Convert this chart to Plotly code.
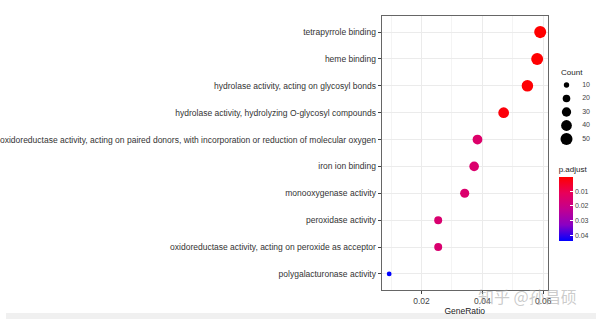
import plotly.graph_objects as go

# ---- data ----
terms = [
    "tetrapyrrole binding",
    "heme binding",
    "hydrolase activity, acting on glycosyl bonds",
    "hydrolase activity, hydrolyzing O-glycosyl compounds",
    "oxidoreductase activity, acting on paired donors, with incorporation or reduction of molecular oxygen",
    "iron ion binding",
    "monooxygenase activity",
    "peroxidase activity",
    "oxidoreductase activity, acting on peroxide as acceptor",
    "polygalacturonase activity",
]
gene_ratio = [0.0590, 0.0580, 0.0548, 0.0470, 0.0384, 0.0373, 0.0342, 0.0255, 0.0255, 0.0094]
counts = [50, 49, 46, 40, 33, 32, 29, 22, 22, 8]
p_adjust = [0.0003, 0.0004, 0.0008, 0.0015, 0.0145, 0.0150, 0.0150, 0.0155, 0.0155, 0.0438]

legend_counts = [10, 20, 30, 40, 50]
p_ticks = [0.01, 0.02, 0.03, 0.04]
x_ticks = [0.02, 0.04, 0.06]

W, H = 600, 319
FONT = "Liberation Sans, Arial, sans-serif"


def dia(c):
    return 1.7 * c ** 0.5


# ggplot-like red->blue (Lab) gradient; colour value is -p so red (small p) is at top
cscale = [
    [0.0, "#0000FF"],
    [0.25, "#8A00C4"],
    [0.5, "#C3008F"],
    [0.75, "#E8005A"],
    [1.0, "#FF0000"],
]

neg_p = [-p for p in p_adjust]

fig = go.Figure()
fig.add_trace(go.Scatter(
    x=gene_ratio, y=terms, mode="markers",
    marker=dict(
        size=[dia(c) for c in counts],
        color=neg_p, colorscale=cscale,
        cmin=-max(p_adjust), cmax=-min(p_adjust),
        line=dict(width=0), opacity=1,
        colorbar=dict(
            title=dict(text="p.adjust", side="top", font=dict(size=8, color="#222222", family=FONT)),
            lenmode="pixels", len=78, thickness=14,
            x=562 / W, xanchor="left", y=1 - 163 / H, yanchor="top",
            xpad=0, ypad=0, outlinewidth=0,
            tickvals=[-t for t in p_ticks], ticktext=[f"{t:.2f}" for t in p_ticks],
            ticks="inside", ticklen=3, tickcolor="white",
            tickfont=dict(size=7, color="#444444", family=FONT),
        ),
    ),
    showlegend=False, xaxis="x", yaxis="y",
))

# size legend (Count)
fig.add_trace(go.Scatter(
    x=[15] * len(legend_counts), y=legend_counts, mode="markers",
    marker=dict(size=[dia(c) for c in legend_counts], color="#000000", opacity=1,
                line=dict(width=0)),
    showlegend=False, xaxis="x2", yaxis="y2", hoverinfo="skip",
))
fig.add_trace(go.Scatter(
    x=[31] * len(legend_counts), y=legend_counts, mode="text",
    text=[str(c) for c in legend_counts], textposition="middle right",
    textfont=dict(size=7, color="#444444", family=FONT),
    showlegend=False, xaxis="x2", yaxis="y2", hoverinfo="skip",
))

x_lo, x_hi = 0.00692, 0.0615
fig.update_layout(
    width=W, height=H,
    margin=dict(l=0, r=0, t=0, b=0),
    paper_bgcolor="white", plot_bgcolor="white",
    font=dict(family=FONT, size=8.5, color="#333333"),
    xaxis=dict(
        domain=[382 / W, 551 / W], range=[x_lo, x_hi],
        tickvals=x_ticks, ticktext=[f"{t:.2f}" for t in x_ticks],
        showgrid=True, gridcolor="#EBEBEB", gridwidth=1,
        minor=dict(dtick=0.01, tick0=0, showgrid=True, gridcolor="#F4F4F4", gridwidth=0.5),
        ticks="outside", ticklen=3, tickcolor="#444444",
        tickfont=dict(size=8.5, color="#444444"),
        showline=True, mirror=True, linecolor="#666666", linewidth=1,
        zeroline=False,
        title=dict(text="GeneRatio", font=dict(size=8.5, color="#222222"), standoff=2),
        anchor="y",
    ),
    yaxis=dict(
        domain=[1 - 290 / H, 1 - 16 / H], range=[len(terms) - 0.4, -0.6],
        type="category", categoryorder="array", categoryarray=terms,
        showgrid=True, gridcolor="#EBEBEB", gridwidth=1,
        ticks="outside", ticklen=3, tickcolor="#444444",
        tickfont=dict(size=8.5, color="#333333"),
        showline=True, mirror=True, linecolor="#666666", linewidth=1,
        zeroline=False, anchor="x",
    ),
    xaxis2=dict(domain=[555 / W, 600 / W], range=[0, 45], visible=False, anchor="y2", fixedrange=True),
    yaxis2=dict(domain=[1 - 147.1 / H, 1 - 76.9 / H], range=[56, 4], visible=False, anchor="x2", fixedrange=True),
    annotations=[
        dict(text="Count", x=562 / W, y=1 - 72 / H, xref="paper", yref="paper",
             xanchor="left", yanchor="middle", showarrow=False,
             font=dict(size=8, color="#222222", family=FONT)),
        dict(text="知乎 @孙昌硕", x=530 / W, y=1 - 296 / H, xref="paper", yref="paper",
             xanchor="center", yanchor="middle", showarrow=False,
             font=dict(size=16, color="rgba(160,160,160,0.55)", family="Noto Sans CJK SC")),
    ],
    shapes=[dict(type="rect", xref="paper", yref="paper", x0=0, x1=1, y0=0, y1=6 / H,
                 fillcolor="#F0F0F0", line=dict(width=0), layer="below")],
)

fig.write_html("out.html")
